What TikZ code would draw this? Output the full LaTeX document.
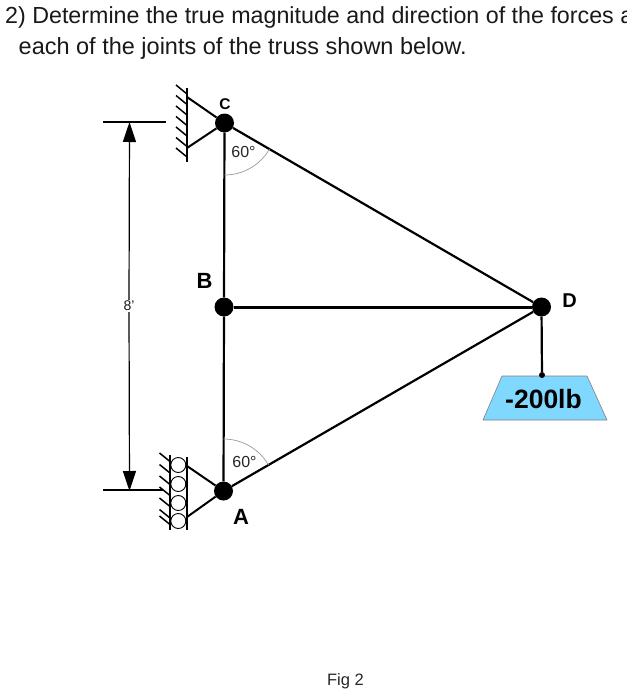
\documentclass[tikz,border=0pt]{standalone}
\usepackage{fontspec}
\setmainfont{Liberation Sans}
\usetikzlibrary{arrows.meta}
\tikzset{
  joint/.style={circle,fill=black,inner sep=0pt,minimum size=19pt},
  smalljoint/.style={circle,fill=black,inner sep=0pt,minimum size=6pt},
  member/.style={line width=2.2pt,black},
  supportline/.style={line width=2pt,black},
  hatch/.style={line width=1.5pt,black},
  extline/.style={line width=1.2pt,black},
  anglearc/.style={line width=0.7pt,gray!80},
  roller/.style={circle,draw=black,line width=0.9pt,inner sep=0pt,minimum size=15pt},
  title/.style={anchor=base west,inner sep=0pt,font=\fontsize{23.5}{26}\selectfont,text=black!90},
  bigl/.style={inner sep=0pt,font=\bfseries\fontsize{22}{24}\selectfont},
  small/.style={inner sep=0pt,font=\fontsize{16}{18}\selectfont,text=black!85},
}
\begin{document}
\begin{tikzpicture}[x=1pt,y=-1pt]
\useasboundingbox (0,0) rectangle (627,694);
\begin{scope}
\clip (0,0) rectangle (627,694);
\node[title,font=\fontsize{23.25}{26}\selectfont] (t1) at (5,23.5) {2) Determine the true magnitude and direction of the forces a};
\end{scope}
\node[title] (t2) at (18.5,54) {each of the joints of the truss shown below.};

% joints
\node[joint] (C) at (224.5,123) {};
\node[joint] (B) at (224,307) {};
\node[joint] (A) at (223.5,491) {};
\node[joint] (D) at (541.5,307) {};

% load
\draw[draw=black!50,line width=0.6pt,fill={rgb,255:red,128;green,216;blue,255}]
  (502,376) -- (587,376) -- (607,420) -- (483,420) -- cycle;
\node[smalljoint] (L) at (542,375) {};
\node[inner sep=0pt,font=\bfseries\fontsize{26.5}{28}\selectfont] (load) at (543.5,399.5) {-200lb};

% members
\draw[member] (C) -- (B);
\draw[member] (B) -- (A);
\draw[member] (C) -- (D);
\draw[member] (A) -- (D);
\draw[member,line width=3pt] (B) -- (D);
\draw[member] (D) -- (L);

% top support
\coordinate (w1) at (187,88); \coordinate (w2) at (187,162);
\coordinate (c1) at (187,97); \coordinate (c2) at (187,148);
\draw[supportline] (w1) -- (w2);
\draw[supportline] (c1) -- (C);
\draw[supportline] (c2) -- (C);
\foreach \y in {85,95.5,106,116.5,127,137.5,148}
  \draw[hatch] (176,\y) -- (187,\y+9);

% bottom support
\draw[supportline] (170,455) -- (170,530);
\draw[supportline] (187,457) -- (187,530);
\foreach \y in {453,464.5,476,487,498,509.5,516}
  \draw[hatch] (159.5,\y) -- (170,\y+8.5);
\foreach \y/\n in {465/r1,484/r2,503/r3,521/r4}
  \node[roller] (\n) at (178.3,\y) {};
\coordinate (a1) at (187,466); \coordinate (a2) at (187,517);
\draw[supportline] (a1) -- (A);
\draw[supportline] (a2) -- (A);

% dimension
\coordinate (e1) at (103,122); \coordinate (e2) at (166,122);
\coordinate (e3) at (103,490); \coordinate (e4) at (163,490);
\draw[extline] (e1) -- (e2);
\draw[extline] (e3) -- (e4);
\node[inner sep=1pt,fill=white,font=\fontsize{14}{16}\selectfont,text=black!90] (dim) at (129,306) {8'};
\coordinate (d1) at (129.5,122); \coordinate (d2) at (129.5,491);
\draw[extline,-{Triangle[length=20pt,width=13pt]}] (dim) -- (d1);
\draw[extline,-{Triangle[length=20pt,width=13pt]}] (dim) -- (d2);

% angles
\draw[anglearc] (224.5,175) arc[start angle=90,end angle=30,x radius=52,y radius=52];
\draw[anglearc] (223.5,439) arc[start angle=-90,end angle=-30,x radius=52,y radius=52];
\node[small] (a60t) at (243.5,152) {60°};
\node[small] (a60b) at (244.5,462) {60°};

% labels
\node[inner sep=0pt,font=\bfseries\fontsize{15.5}{17}\selectfont] (lc) at (225,104) {C};
\node[bigl] (lb) at (204.5,281) {B};
\node[inner sep=0pt,font=\bfseries\fontsize{20}{22}\selectfont] (ld) at (569.5,300.5) {D};
\node[bigl] (la) at (241,517) {A};
\node[inner sep=0pt,font=\fontsize{16.5}{18}\selectfont,text=black!85] (fig) at (345.5,681) {Fig 2};
\end{tikzpicture}
\end{document}
